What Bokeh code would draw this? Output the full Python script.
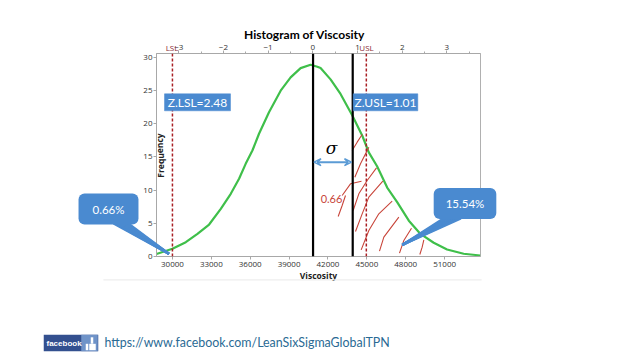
import math
from bokeh.plotting import figure
from bokeh.models import (Range1d, LinearAxis, Label, BoxAnnotation, Arrow, VeeHead,
                          FixedTicker, Span)
from bokeh.embed import file_html
from bokeh.resources import INLINE

curve_x = [28770, 30000, 31030, 31930, 32830, 33730, 34500, 35140, 35650, 36170, 36680, 37450, 38350, 39120,
           39890, 40660, 41180, 41430, 42200, 42970, 43880, 44650, 45150, 45790, 46570, 47340, 48240, 49140,
           50160, 51190, 52470, 53750]
curve_y = [0.38, 1.16, 2.16, 3.42, 4.82, 7.19, 9.45, 11.71, 13.97, 15.98, 18.5, 21.75, 25.0, 27.0,
           28.4, 28.9, 28.6, 28.4, 26.7, 24.5, 21.25, 18.2, 15.7, 13.6, 10.4, 8.2, 5.4, 3.4,
           2.07, 1.06, 0.41, 0.15]
x_ticks = [30000, 33000, 36000, 39000, 42000, 45000, 48000, 51000]
y_ticks = [0, 5, 10, 15, 20, 25, 30]
z_ticks = [-3, -2, -1, 0, 1, 2, 3]
LSL, USL = 30000, 44960
MEAN, PLUS_SIGMA = 40850, 43910
TITLE = "Histogram of Viscosity"
XLAB, YLAB = "Viscosity", "Frequency"
LINK = "https://www.facebook.com/LeanSixSigmaGlobalTPN"

# page pixel frame of the plot area
L, R, T, B = 156, 480, 53, 256
XS, XE = 28770, 53770
YS, YE = 0, 30.6
def X(px): return XS + (px - L) / (R - L) * (XE - XS)
def Y(py): return YS + (B - py) / (B - T) * (YE - YS)
def ZX(z): return X(300 + z / 3)
def ZY(z): return Y(130 + z / 3)

p = figure(width=640, height=360, output_backend="svg", toolbar_location=None,
           x_range=Range1d(XS, XE), y_range=Range1d(YS, YE),
           min_border_left=L, min_border_right=640 - R, min_border_top=T, min_border_bottom=360 - B,
           outline_line_color="#b0b0b0", background_fill_color="white", border_fill_color="white")
p.grid.visible = False

GRAY = "#a8a8a8"
TICK = "#333333"
def style(ax):
    ax.axis_line_color = GRAY
    ax.major_tick_line_color = GRAY
    ax.minor_tick_line_color = GRAY
    ax.major_label_text_font = "Open Sans"
    ax.major_label_text_font_size = "8px"
    ax.major_label_text_color = TICK
    ax.major_tick_out = 3
    ax.major_tick_in = 0
    ax.minor_tick_out = 0
    ax.minor_tick_in = 0
    ax.major_label_standoff = 1

p.xaxis.ticker = FixedTicker(ticks=x_ticks)
p.yaxis.ticker = FixedTicker(ticks=y_ticks)
style(p.xaxis[0]); style(p.yaxis[0])
p.xaxis.major_label_standoff = 2

p.extra_x_ranges["z"] = Range1d((L - 312.3) / 44.7, (R - 312.3) / 44.7)
top = LinearAxis(x_range_name="z", ticker=FixedTicker(ticks=z_ticks, minor_ticks=[-2.5, -1.5, -0.5, 0.5, 1.5, 2.5, 3.5, -3.5]))
style(top)
top.minor_tick_out = 2
p.add_layout(top, "above")

p.line(curve_x, curve_y, line_color="#3fbf4a", line_width=2.2)
p.add_layout(Span(location=MEAN, dimension="height", line_color="black", line_width=2.2))
p.add_layout(Span(location=PLUS_SIGMA, dimension="height", line_color="black", line_width=2.2))
for v in (LSL, USL):
    p.add_layout(Span(location=v, dimension="height", line_color="#a81f24", line_width=1.5, line_dash="3 2"))

strokes = [
    [(155, 60), (170, 35), (185, 12)],
    [(163, 140), (180, 100), (205, 50)],
    [(125, 195), (150, 160), (183, 152)],
    [(113, 258), (125, 225), (135, 195)],
    [(158, 240), (175, 190), (200, 150), (228, 112)],
    [(165, 303), (185, 250), (205, 200), (247, 152)],
    [(182, 358), (205, 300), (235, 250), (275, 212)],
    [(237, 362), (250, 320), (295, 260)],
    [(297, 368), (310, 330), (333, 293)],
    [(358, 372), (365, 350), (370, 328)],
]
p.multi_line([[ZX(a) for a, _ in s] for s in strokes], [[ZY(b) for _, b in s] for s in strokes],
             line_color="#c8453a", line_width=1.1)

BLUE = "#4a8ad0"
def box(l, r, t, b, radius=0, color=BLUE):
    p.add_layout(BoxAnnotation(left=X(l), right=X(r), top=Y(t), bottom=Y(b), fill_color=color, fill_alpha=1,
                               line_color=color, line_alpha=1, line_width=0.5, border_radius=radius,
                               level="overlay"))
def text(px, py, s, size, color="white", font="Lato", style_="normal", align="center", angle=0, side="center", **kw):
    p.add_layout(Label(x=X(px), y=Y(py), text=s, text_font_size=f"{size}px", text_color=color, text_font=font,
                       text_font_style=style_, text_align=align, text_baseline="middle", angle=angle,
                       level="overlay", **kw), side)
def seg(x0, y0, x1, y1, color, side):
    # a thin unclipped bar: an empty label's background, turned along the segment
    length = math.hypot(x1 - x0, y1 - y0)
    text((x0 + x1) / 2, (y0 + y1) / 2, "\u00a0", 2, angle=math.atan2(y0 - y1, x1 - x0), side=side,
         background_fill_color=color, padding=(round(length / 2), 0))
def fan(x0, x1, yb, tipx, tipy, side):
    n = 8
    for i in range(n + 1):
        seg(x0 + (x1 - x0) * i / n, yb, tipx, tipy, BLUE, side)

box(164, 230, 93.3, 110.3)
box(352.7, 417.3, 93.3, 110.3)
fan(113, 128, 223, 168, 253, "below")
fan(443, 460, 218, 402, 244.3, "below")
text(197, 102, "Z.LSL=2.48", 12)
text(385, 102, "Z.USL=1.01", 12)
text(108, 208.5, "0.66%", 11.5, side="left", background_fill_color=BLUE, padding=(14, 9), border_radius=6)
text(464.5, 203, "15.54%", 11.5, side="right", background_fill_color=BLUE, padding=(12, 9), border_radius=6)

p.add_layout(Arrow(end=VeeHead(size=7, line_color="#5b9bd5", line_width=1.5, fill_alpha=0),
                   start=VeeHead(size=7, line_color="#5b9bd5", line_width=1.5, fill_alpha=0),
                   x_start=X(313.5), x_end=X(351), y_start=Y(161.7), y_end=Y(161.7),
                   line_color="#5b9bd5", line_width=2))
text(331, 147, "σ", 17, color="black", font="DejaVu Serif", style_="italic")
text(331, 198, "0.66", 11, color="#c8453a")

text(304, 33.5, TITLE, 12, color="black", style_="bold", side="above")
text(318, 274.5, XLAB, 8.5, color="#222222", style_="bold", font="Open Sans", side="below")
text(159.5, 155, YLAB, 8.5, color="#222222", style_="bold", font="Open Sans", angle=1.5708)
text(171.5, 47, "LSL", 8, color="#8a2a35", font="Open Sans", side="above")
text(366, 47, "USL", 8, color="#8a2a35", font="Open Sans", side="above")

text(292, 279.4, "\u00a0", 1, side="below", background_fill_color="#eeeeee", padding=(189, 0))

text(70.5, 342.5, "\u00a0", 2, side="left", background_fill_color="#33508f", padding=(27, 7))
text(89, 342.5, "\u00a0", 2, side="right", background_fill_color="#6f93c8", padding=(8, 7))
text(86.5, 346.5, "\u00a0", 2, side="right", background_fill_color="white", padding=(1, 2))
text(92, 346.5, "\u00a0", 2, side="right", background_fill_color="white", padding=(3, 2))
text(91.5, 340, "\u00a0", 2, side="right", background_fill_color="white", padding=(1, 2))
text(46, 342.5, "facebook", 8, align="left", style_="bold", font="Liberation Sans", side="right")
text(104, 342, LINK, 12.4, color="#2a6a94", align="left", side="below")

open("out.html", "w").write(file_html(p, INLINE))
